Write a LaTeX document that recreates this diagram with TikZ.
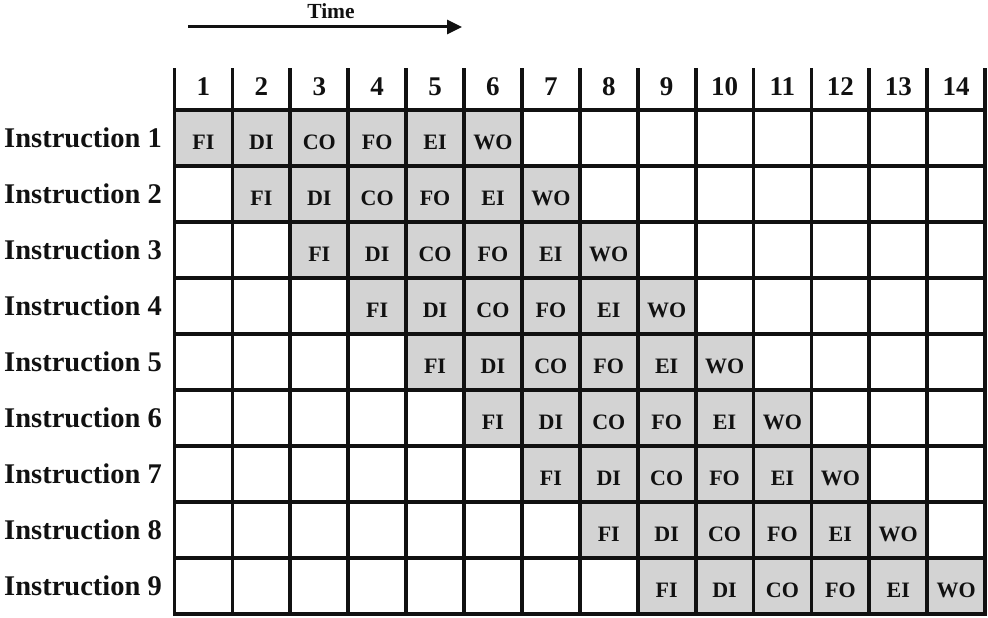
\documentclass[tikz,border=0pt]{standalone}
\usepackage{fontspec}
\setmainfont{Liberation Serif}
\usetikzlibrary{positioning,arrows.meta}
\definecolor{stagegray}{RGB}{211,211,211}
\definecolor{gridblack}{RGB}{17,17,17}
\providecommand{\stagefont}{\fontsize{22}{24}\selectfont\bfseries}
\providecommand{\headfont}{\fontsize{27}{29}\selectfont\bfseries}
\providecommand{\labelfont}{\fontsize{28.5}{30}\selectfont\bfseries}
\providecommand{\timefont}{\fontsize{21.5}{23}\selectfont\bfseries}
\tikzset{
  cell/.style={draw=gridblack,line width=3.8pt,minimum width=\cellw pt,minimum height=\cellh pt,
    inner sep=0pt,outer sep=0pt,text height=22pt,text depth=0pt,font=\stagefont,text=gridblack},
  busy/.style={cell,fill=stagegray},
  gridline/.style={draw=gridblack,line width=3.8pt},
  headnum/.style={inner sep=0pt,text depth=0pt,font=\headfont,text=gridblack},
  rowlabel/.style={inner sep=0pt,font=\labelfont,text=gridblack},
  timelabel/.style={inner sep=0pt,font=\timefont,text=gridblack},
  timearrow/.style={draw=gridblack,line width=3pt,-{Triangle[length=15pt,width=14pt]}}
}
\begin{document}
\begin{tikzpicture}[x=1pt,y=-1pt]
    \pgfmathsetmacro{\gridleft}{174.5}
    \pgfmathsetmacro{\gridtop}{110}
    \pgfmathsetmacro{\headheight}{42}
    \pgfmathsetmacro{\cellw}{57.9}  % 14 cycles across
    \pgfmathsetmacro{\cellh}{56.0}  % 9 instructions down
    \useasboundingbox (0,0) rectangle (988,618);
    % time arrow
    \coordinate (tstart) at (188,27);
    \coordinate (tend) at (462,27);
    \draw[timearrow] (tstart) -- (tend);
    \node[timelabel] (time) at (331,11) {Time};
    % pipeline cells
    \foreach \i in {1,...,9}{
      \foreach \j in {1,...,14}{
        \pgfmathtruncatemacro{\k}{\j-\i}
        \ifnum\k<0 \def\stagestyle{cell}\else\ifnum\k>5 \def\stagestyle{cell}\else\def\stagestyle{busy}\fi\fi
        \node[\stagestyle] (c\i-\j) at ({\gridleft+(\j-0.5)*\cellw},{\gridtop+(\i-0.5)*\cellh})
          {\ifnum\k<0\else\ifnum\k>5\else\ifcase\k FI\or DI\or CO\or FO\or EI\or WO\fi\fi\fi};
      }
      \node[rowlabel,left=12.5pt of c\i-1] (lbl\i) {Instruction \i};
    }
    % header row
    \draw[gridline] (c1-1.north west) -- ++(0,-\headheight);
    \foreach \j in {1,...,14}{
      \draw[gridline] (c1-\j.north east) -- ++(0,-\headheight);
      \node[headnum,above=14pt of c1-\j] (h\j) {\j};
    }
\end{tikzpicture}
\end{document}
